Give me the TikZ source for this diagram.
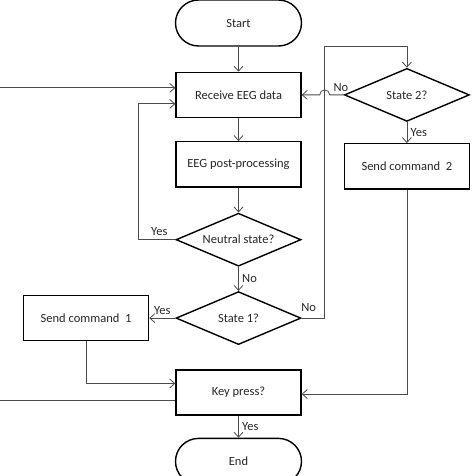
\documentclass[tikz,border=0pt]{standalone}
\usepackage{fontspec}
\setmainfont{Carlito}
\usetikzlibrary{arrows.meta, positioning, shapes.geometric}

\begin{document}
\begin{tikzpicture}[
        x=1pt, y=1pt,
        node distance=24pt and 26pt,
        font=\fontsize{12.5}{14}\selectfont,
        every node/.style={text=black!85},
        term/.style={rectangle, rounded corners=23pt, draw=black, line width=1.4pt, align=center, minimum width=126pt, minimum height=46pt},
        proc/.style={rectangle, draw=black, line width=1.4pt, align=center, minimum width=125pt, minimum height=45pt},
        decision/.style={diamond, shape aspect=2.36, draw=black, line width=1.4pt, align=center, minimum width=125pt, minimum height=53pt, inner sep=0pt},
        arrow/.style={-{Straight Barb[length=5pt, width=9pt]}, line width=0.8pt, draw=black!70}
    ]
        \useasboundingbox (-238.5,23) rectangle (235.5,-453);

        \node[term] (start) {Start};
        \node[proc, below=25pt of start] (receive) {Receive EEG data};
        \node[proc, below=23pt of receive] (post) {EEG post-processing};
        \node[decision, below=25pt of post] (neutral) {Neutral state?};
        \node[decision, below=of neutral] (state1) {State 1?};
        \node[proc, below=of state1] (keypress) {Key press?};
        \node[term, below=22pt of keypress] (end) {End};
        \node[proc, left=of state1] (send1) {Send command~~1};
        \node[decision, right=42pt of receive] (state2) {State 2?};
        \node[proc, below=21pt of state2] (send2) {Send command~~2};

        \draw[arrow] (start) -- (receive);
        \draw[arrow] (receive) -- (post);
        \draw[arrow] (post) -- (neutral);
        \draw[arrow] (neutral.west) -- node[above, pos=0.43]{Yes} ++(-37,0) |- ([yshift=-9pt]receive.west);
        \draw[arrow] (neutral) -- node[right]{No} (state1);
        \draw[arrow] (state1.west) -- node[above]{Yes} (send1.east);
        \draw[arrow] (state1.east) -- node[above, pos=0.3, yshift=3pt]{No} ++(23,0) |- ([yshift=21pt]state2.north) -- (state2.north);
        \draw[arrow] (state2.west) -- node[above, pos=0.2]{No} ++(-14,0) arc[start angle=0, end angle=180, radius=5] -- (receive.east);
        \draw[arrow] (state2) -- node[right]{Yes} (send2);
        \draw[arrow] (send2.south) |- ([yshift=-1.5pt]keypress.east);
        \draw[arrow] (send1.south) |- ([yshift=9pt]keypress.west);
        \draw[arrow] ([yshift=-8pt]keypress.west) -- ++(-190,0) |- ([yshift=7pt]receive.west);
        \draw[arrow] (keypress) -- node[right]{Yes} (end);
    \end{tikzpicture}
\end{document}
